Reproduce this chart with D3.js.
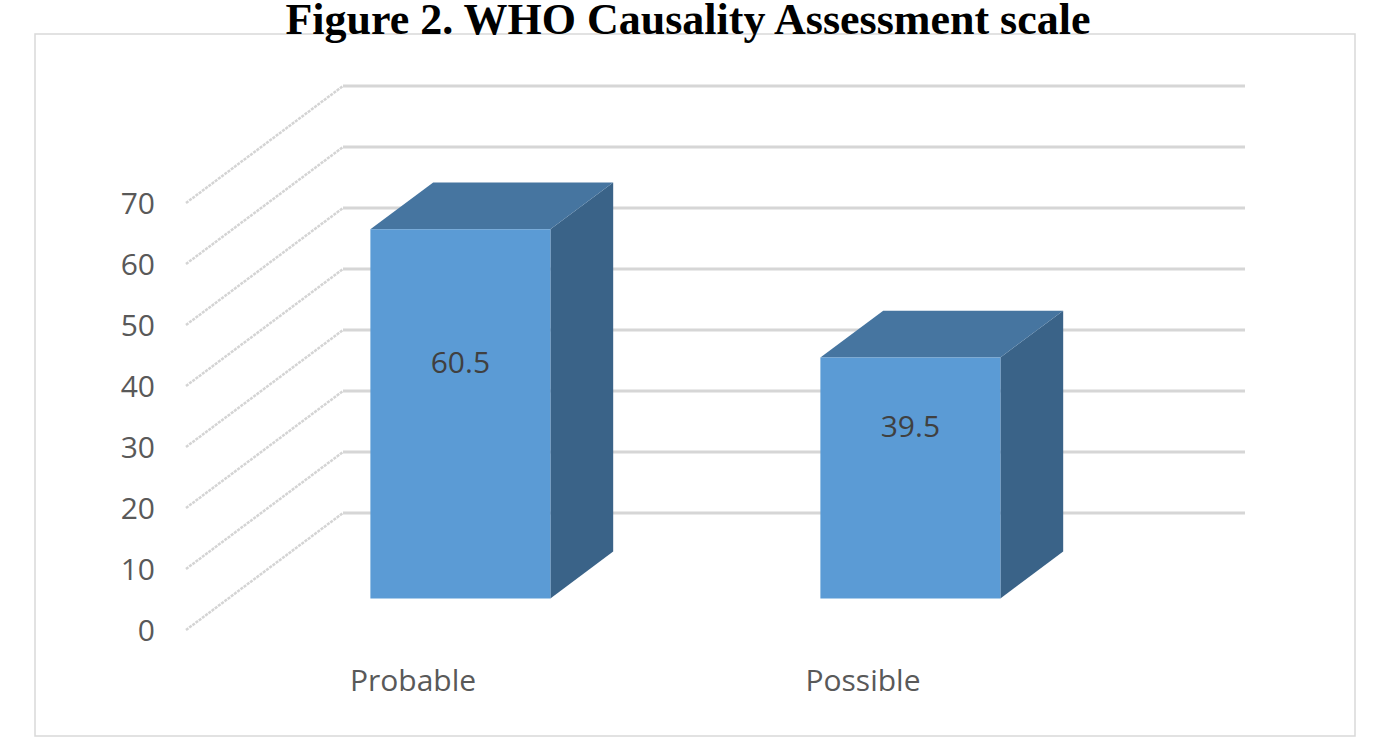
<!DOCTYPE html><html><head><meta charset="utf-8"><script src="https://cdn.jsdelivr.net/npm/d3@7"></script>
<style>body{margin:0;background:#fff}</style></head><body><svg width="1377" height="750"></svg><script>
const categories=["Probable","Possible"];
const values=[60.5,39.5];
const ticks=[0,10,20,30,40,50,60,70];
const svg=d3.select("svg");
const y=d3.scaleLinear().domain([0,70]).range([630,203]);
const x=d3.scaleBand().domain(categories).range([193,1093]).paddingInner(0.6).paddingOuter(0.3);
const DX=157,DY=-117;
const P=(px,v,z)=>[px+DX*z,y(v)+DY*z];
svg.append("rect").attr("x",35).attr("y",34).attr("width",1320).attr("height",702).attr("fill","none").attr("stroke","#d9d9d9").attr("stroke-width",1.5);
svg.append("text").attr("x",688).attr("y",34).attr("text-anchor","middle").attr("font-family","Liberation Serif").attr("font-weight","bold").attr("font-size",44).text("Figure 2. WHO Causality Assessment scale");
const g=svg.append("g");
ticks.forEach(t=>{
  const a=P(186,t,0),b=P(186,t,1);
  g.append("line").attr("x1",a[0]).attr("y1",a[1]).attr("x2",b[0]).attr("y2",b[1]).attr("stroke","#d4d4d4").attr("stroke-width",2.5).attr("stroke-dasharray","3,1");
  g.append("line").attr("x1",b[0]).attr("y1",b[1]).attr("x2",1245).attr("y2",b[1]).attr("stroke","#d6d6d6").attr("stroke-width",3);
  g.append("text").attr("x",155).attr("y",y(t)+11).attr("text-anchor","end").attr("font-family","Open Sans, Liberation Sans").attr("font-size",30).attr("fill","#595959").text(t);
});
const z0=0.27,z1=0.67;
categories.forEach((c,i)=>{
  const x0=x(c),x1=x0+x.bandwidth(),v=values[i];
  const poly=(pts,f)=>g.append("polygon").attr("points",pts.map(p=>p.join(",")).join(" ")).attr("fill",f);
  poly([P(x1,0,z0),P(x1,0,z1),P(x1,v,z1),P(x1,v,z0)],"#3a6388");
  poly([P(x0,v,z0),P(x1,v,z0),P(x1,v,z1),P(x0,v,z1)],"#4675a0");
  poly([P(x0,0,z0),P(x1,0,z0),P(x1,v,z0),P(x0,v,z0)],"#5b9bd5");
  const cx=(x0+x1)/2+DX*z0;
  g.append("text").attr("x",cx).attr("y",(y(0)+y(v))/2+DY*z0-41).attr("text-anchor","middle").attr("font-family","Open Sans, Liberation Sans").attr("font-size",30).attr("fill","#404040").text(v);
  g.append("text").attr("x",(x0+x1)/2-5).attr("y",691).attr("text-anchor","middle").attr("font-family","Open Sans, Liberation Sans").attr("font-size",30).attr("fill","#595959").text(c);
});
</script></body></html>
